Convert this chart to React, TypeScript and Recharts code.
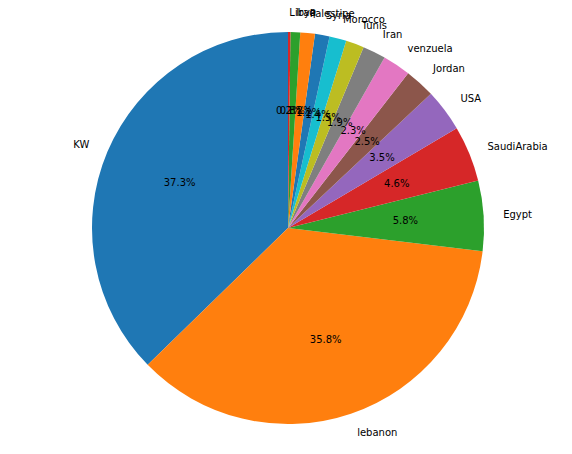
import React from "react";
import { PieChart, Pie, Cell } from "recharts";

const countries = ["KW", "lebanon", "Egypt", "SaudiArabia", "USA", "Jordan", "venzuela", "Iran", "Tunis", "Morocco", "Syria", "Palestine", "Iraq", "Libya"];
const shares = [37.3, 35.8, 5.8, 4.6, 3.5, 2.5, 2.3, 1.9, 1.5, 1.4, 1.2, 1.2, 0.8, 0.2];
const palette = ["#1f77b4", "#ff7f0e", "#2ca02c", "#d62728", "#9467bd", "#8c564b", "#e377c2", "#7f7f7f", "#bcbd22", "#17becf"];

const data = countries.map((name, i) => ({ name, value: shares[i] }));
const total = shares.reduce((a, b) => a + b, 0);

const RAD = Math.PI / 180;

const renderLabel = (props: any) => {
  const { cx, cy, midAngle, outerRadius, name, value } = props;
  const cos = Math.cos(-midAngle * RAD);
  const sin = Math.sin(-midAngle * RAD);
  const lx = cx + outerRadius * 1.1 * cos;
  const ly = cy + outerRadius * 1.1 * sin;
  const px = cx + outerRadius * 0.6 * cos;
  const py = cy + outerRadius * 0.6 * sin;
  const pct = ((value / total) * 100).toFixed(1) + "%";
  return (
    <g>
      <text x={lx} y={ly} textAnchor={lx > cx ? "start" : "end"} dominantBaseline="central" fill="#000" fontSize={10} fontFamily="DejaVu Sans">
        {name}
      </text>
      <text x={px} y={py} textAnchor="middle" dominantBaseline="central" fill="#000" fontSize={10} fontFamily="DejaVu Sans">
        {pct}
      </text>
    </g>
  );
};

export default function App() {
  return (
    <div style={{ position: "absolute", left: 0, top: 0, width: 572, height: 454, background: "#fff" }}>
      <PieChart width={572} height={454} margin={{ top: 0, right: 0, bottom: 0, left: 0 }}>
        <Pie
          data={data}
          dataKey="value"
          nameKey="name"
          cx={288}
          cy={228}
          outerRadius={196}
          startAngle={90}
          endAngle={450}
          label={renderLabel}
          labelLine={false}
          isAnimationActive={false}
          stroke="none"
        >
          {data.map((d, i) => (
            <Cell key={d.name} fill={palette[i % palette.length]} />
          ))}
        </Pie>
      </PieChart>
    </div>
  );
}
